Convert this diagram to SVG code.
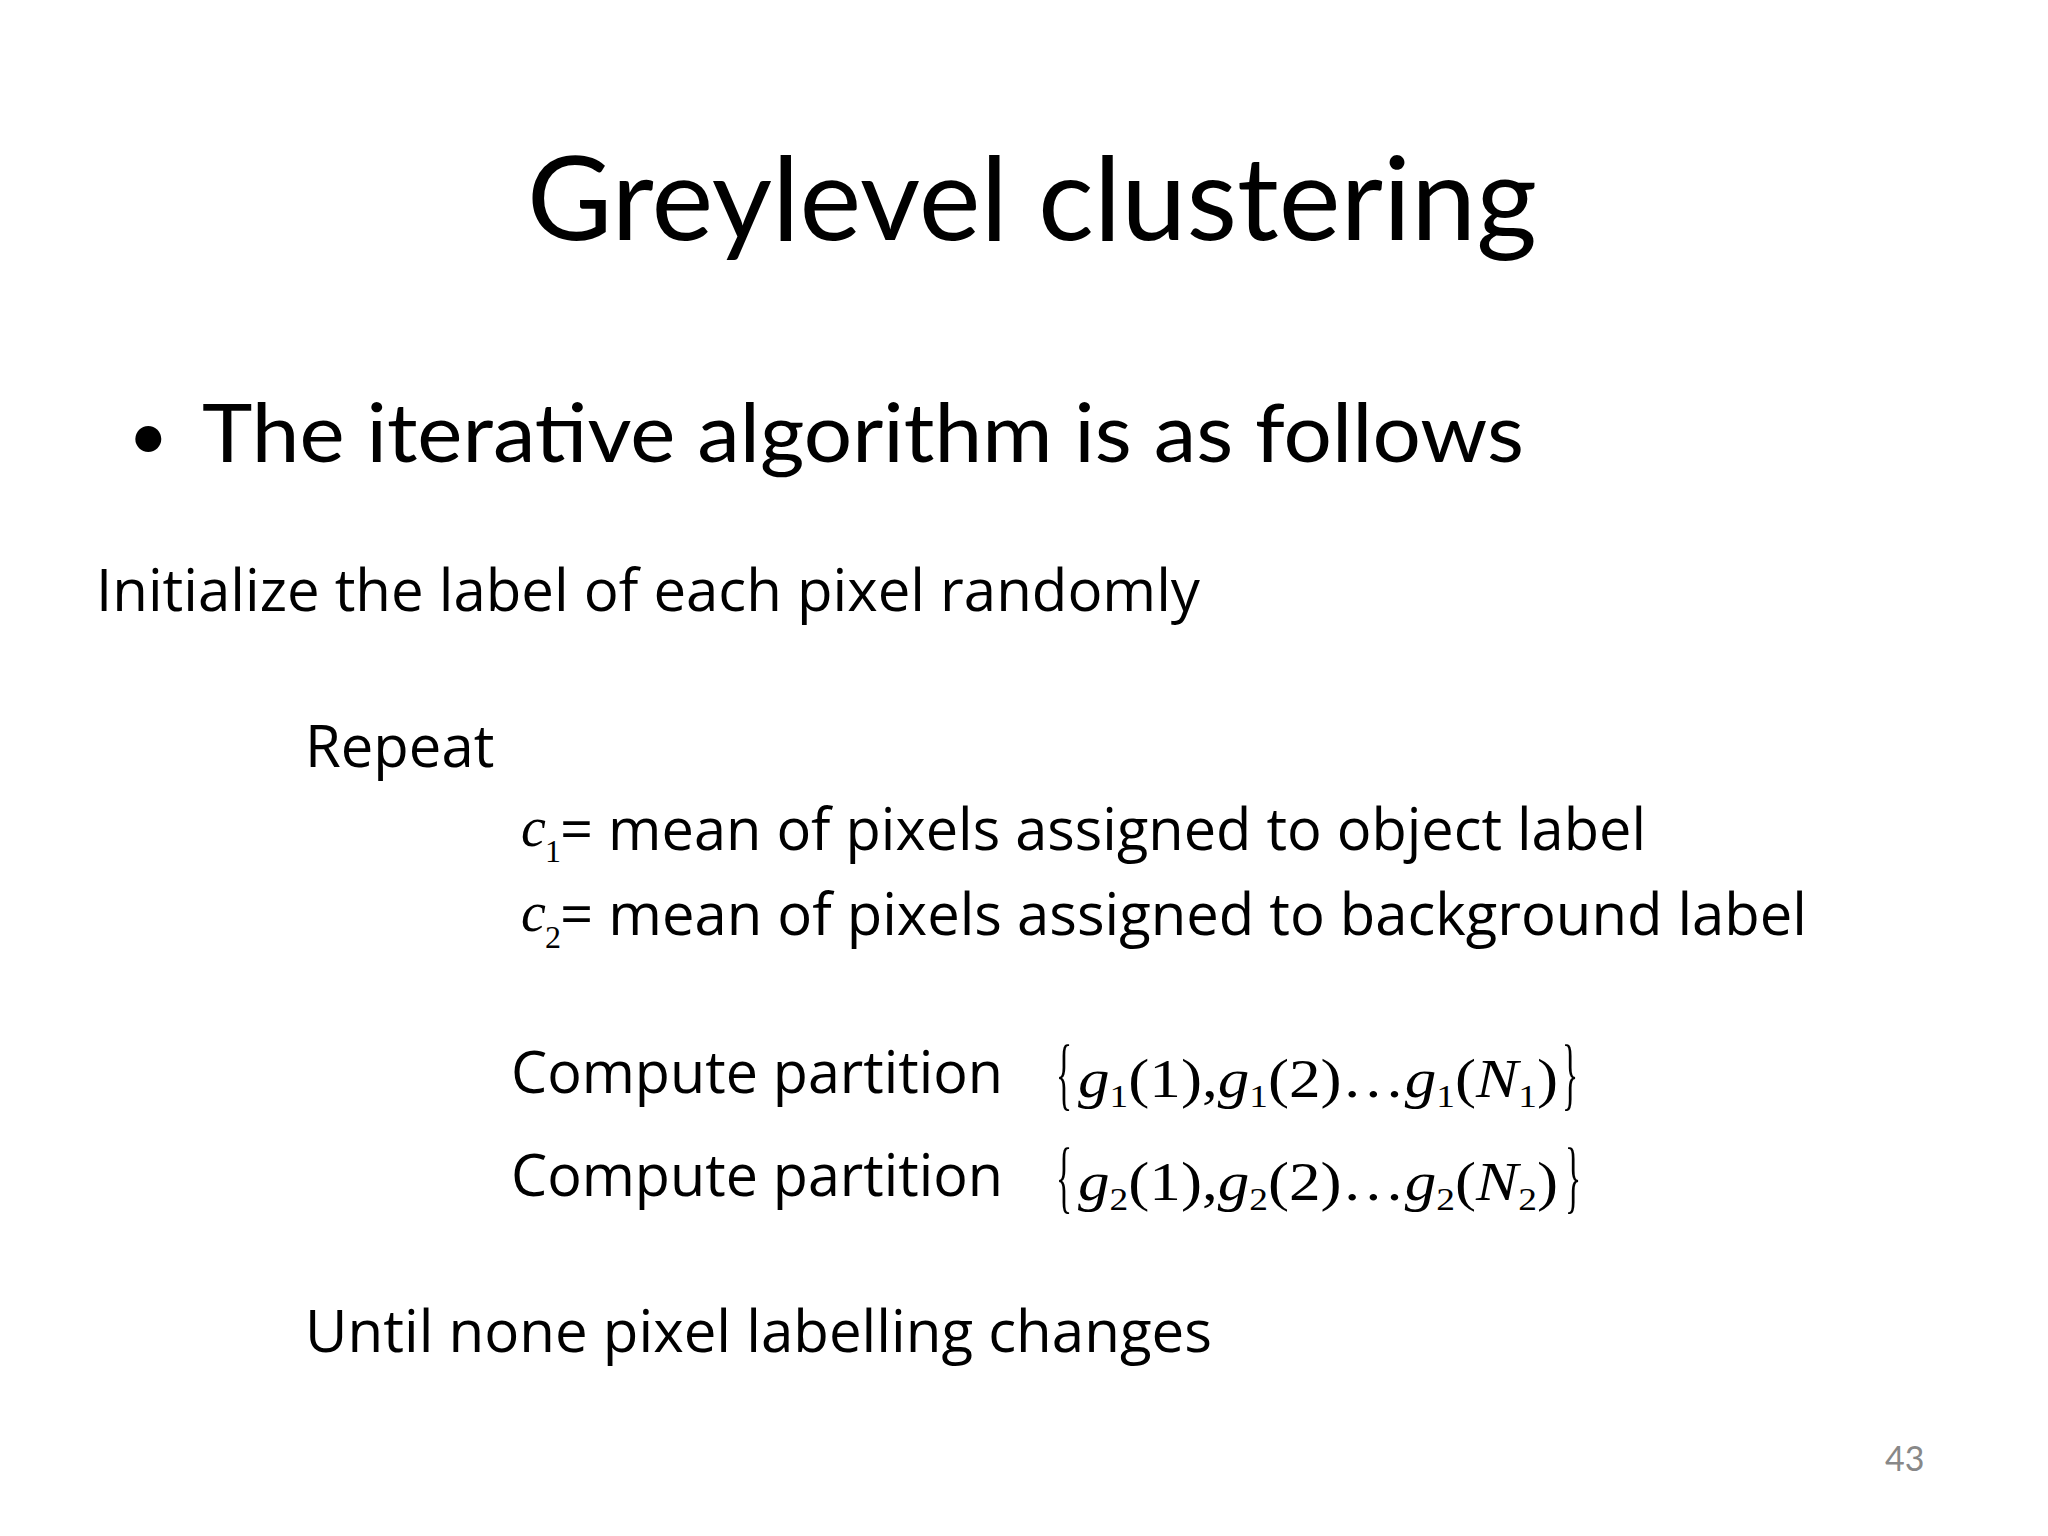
<svg xmlns="http://www.w3.org/2000/svg" width="2048" height="1536" viewBox="0 0 2048 1536">
<style>
.t{font-family:"Open Sans","Noto Sans",sans-serif;fill:#000}
.m{font-family:"Liberation Serif",serif;fill:#000}
.i{font-style:italic}
</style>
<rect width="2048" height="1536" fill="#fff"/>
<text x="1032" y="240" text-anchor="middle" font-family="Lato,sans-serif" font-size="116" textLength="1010" lengthAdjust="spacingAndGlyphs">Greylevel clustering</text>
<text x="128" y="460" font-family="Lato,sans-serif" font-size="70">•</text>
<text x="202" y="462" font-family="Lato,sans-serif" font-size="82" textLength="1322" lengthAdjust="spacingAndGlyphs">The iterative algorithm is as follows</text>
<text class="t" x="96" y="611" font-size="58" textLength="1104" lengthAdjust="spacingAndGlyphs">Initialize the label of each pixel randomly</text>
<text class="t" x="305" y="767" font-size="58">Repeat</text>
<g id="c1"><text class="m i" x="521" y="846" font-size="56">c</text><text class="m" x="545" y="862" font-size="32">1</text></g>
<text class="t" x="560" y="850" font-size="58" textLength="1086" lengthAdjust="spacingAndGlyphs">= mean of pixels assigned to object label</text>
<g id="c2"><text class="m i" x="521" y="931" font-size="56">c</text><text class="m" x="545" y="948" font-size="32">2</text></g>
<text class="t" x="560" y="935" font-size="58" textLength="1247" lengthAdjust="spacingAndGlyphs">= mean of pixels assigned to background label</text>
<text class="t" x="511" y="1093" font-size="58" textLength="492" lengthAdjust="spacingAndGlyphs">Compute partition</text>
<text class="t" x="511" y="1196" font-size="58" textLength="492" lengthAdjust="spacingAndGlyphs">Compute partition</text>
<g class="m" font-size="54">
<text font-size="56" transform="translate(1056,1100) scale(0.6,1.45)">{</text>
<text x="1078" y="1097" textLength="480" lengthAdjust="spacingAndGlyphs"><tspan class="i">g</tspan><tspan font-size="32" dy="10">1</tspan><tspan dy="-10">(1),</tspan><tspan class="i">g</tspan><tspan font-size="32" dy="10">1</tspan><tspan dy="-10">(2)…</tspan><tspan class="i">g</tspan><tspan font-size="32" dy="10">1</tspan><tspan dy="-10">(</tspan><tspan class="i">N</tspan><tspan font-size="32" dy="10">1</tspan><tspan dy="-10">)</tspan></text>
<text font-size="56" transform="translate(1562,1100) scale(0.6,1.45)">}</text>
<text font-size="56" transform="translate(1056,1203) scale(0.6,1.45)">{</text>
<text x="1078" y="1200" textLength="480" lengthAdjust="spacingAndGlyphs"><tspan class="i">g</tspan><tspan font-size="32" dy="10">2</tspan><tspan dy="-10">(1),</tspan><tspan class="i">g</tspan><tspan font-size="32" dy="10">2</tspan><tspan dy="-10">(2)…</tspan><tspan class="i">g</tspan><tspan font-size="32" dy="10">2</tspan><tspan dy="-10">(</tspan><tspan class="i">N</tspan><tspan font-size="32" dy="10">2</tspan><tspan dy="-10">)</tspan></text>
<text font-size="56" transform="translate(1565,1203) scale(0.6,1.45)">}</text>
</g>
<text class="t" x="305" y="1352" font-size="58" textLength="907" lengthAdjust="spacingAndGlyphs">Until none pixel labelling changes</text>
<text x="1885" y="1471" font-family="Lato,sans-serif" font-size="34" fill="#888">43</text>
</svg>
